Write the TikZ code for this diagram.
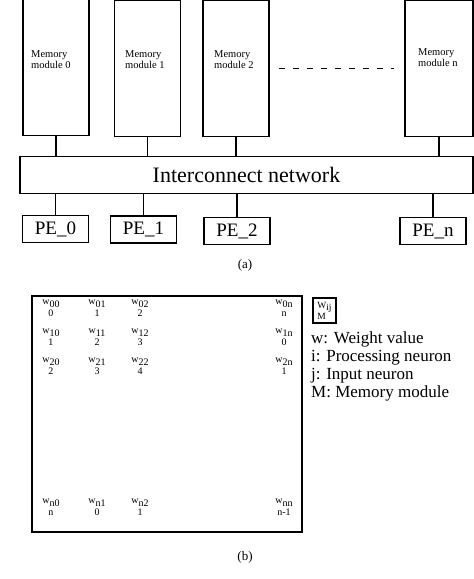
\documentclass[tikz,border=0pt]{standalone}
\usepackage{fontspec}
\setmainfont{Liberation Serif}
\usetikzlibrary{calc}

\newcommand\wsub[1]{w\raisebox{-3pt}{#1}}

\tikzset{
  mem/.style={draw, line width=1.8pt, minimum width=66pt, minimum height=136pt},
  memtext/.style={anchor=west, align=left, inner sep=0pt, font=\fontsize{10.5}{11}\selectfont},
  pe/.style={draw, line width=1.8pt, minimum width=66pt, minimum height=27pt, inner sep=0pt, font=\fontsize{19}{19}\selectfont},
  link/.style={line width=1.4pt},
  wentry/.style={align=center, inner sep=0pt, font=\fontsize{10}{12}\selectfont},
  subcap/.style={font=\fontsize{13}{13}\selectfont},
}

\begin{document}
\begin{tikzpicture}[x=1pt, y=-1pt]
\useasboundingbox (0,0) rectangle (474,579);
% (a) memory modules
\node[mem] (m0) at (56,67.5) {};
\node[mem] (m1) at (147.5,68.5) {};
\node[mem] (m2) at (236,68.5) {};
\node[mem, minimum width=68pt] (mn) at (439,68.5) {};
\node[memtext] (t0) at (31,60) {Memory\\module 0};
\node[memtext] (t1) at (125,60) {Memory\\module 1};
\node[memtext] (t2) at (214,60) {Memory\\module 2};
\node[memtext] (tn) at (418,58) {Memory\\module n};
\draw[line width=1.2pt, dash pattern=on 6pt off 8pt] ($(m2.east)+(9,0)$) -- ($(mn.west)+(-10,0)$);

% interconnect
\node[draw, line width=1.8pt, minimum width=453pt, minimum height=37pt,
  font=\fontsize{22}{22}\selectfont] (net) at (246.5,175) {Interconnect network};
\foreach \m in {m0,m1,m2,mn}
  \draw[link] (\m.south) -- (\m.south |- net.north);

% processing elements
\node[pe] (pe0) at (55.5,229) {PE\_0};
\node[pe] (pe1) at (143.5,229.5) {PE\_1};
\node[pe] (pe2) at (237,231) {PE\_2};
\node[pe] (pen) at (433,231) {PE\_n};
\foreach \p in {pe0,pe1,pe2,pen}
  \draw[link] (\p.north) -- (\p.north |- net.south);

\node[subcap] (capa) at (245,265) {(a)};

% (b) weight layout
\node[draw, line width=1.8pt, minimum width=270pt, minimum height=236pt] (wbox) at (167,414) {};
\foreach \j/\x/\k in {0/51/0, 1/97/1, 2/140/2, n/284/n}
  \node[wentry] (w0\j) at (\x,308) {\wsub{0\j}\\\k};
\foreach \j/\x/\k in {0/51/1, 1/97/2, 2/140/3, n/284/0}
  \node[wentry] (w1\j) at (\x,337) {\wsub{1\j}\\\k};
\foreach \j/\x/\k in {0/51/2, 1/97/3, 2/140/4, n/284/1}
  \node[wentry] (w2\j) at (\x,366) {\wsub{2\j}\\\k};
\foreach \j/\x/\k in {0/51/n, 1/97/0, 2/140/1, n/284/n-1}
  \node[wentry] (wn\j) at (\x,507) {\wsub{n\j}\\\k};

% legend
\node[draw, line width=1.2pt, minimum width=23pt, minimum height=25pt, align=left, inner sep=1.5pt,
  font=\fontsize{9.5}{11}\selectfont] (key) at (324.5,310.5) {W\raisebox{-2pt}{ij}\\M};
\node[anchor=north west, align=left, inner sep=0pt, font=\fontsize{17}{18}\selectfont]
  (legend) at (311,331) {w: Weight value\\i: Processing neuron\\j: Input neuron\\M: Memory module};

\node[subcap] (capb) at (245,557) {(b)};
\end{tikzpicture}
\end{document}
